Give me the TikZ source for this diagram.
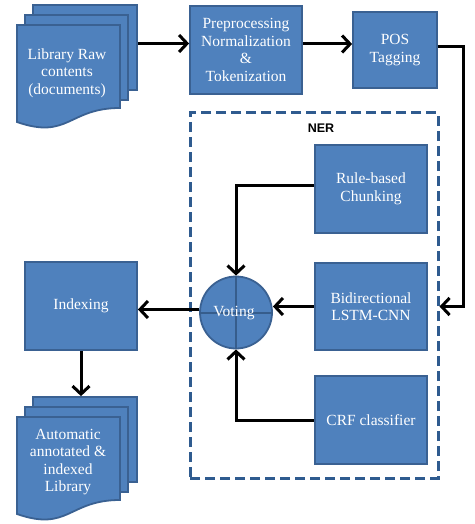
\documentclass[tikz,border=0pt]{standalone}
\usepackage{fontspec}
\setmainfont{Liberation Serif}
\newfontfamily\nersans{Liberation Sans}
\usetikzlibrary{arrows.meta,calc}
\definecolor{boxfill}{HTML}{4F81BD}
\definecolor{boxline}{HTML}{3A6192}
\definecolor{dashline}{HTML}{2F5B8F}
\definecolor{crossline}{HTML}{365D8C}
\tikzset{
  blk/.style={rectangle, fill=boxfill, draw=boxline, line width=1.8pt, text=white,
    align=center, inner sep=0pt, font=\fontsize{15.5}{17.5}\selectfont},
  page/.style={fill=boxfill, draw=boxline, line width=1.8pt},
  doctext/.style={text=white, align=center, inner sep=0pt, font=\fontsize{15.5}{17.5}\selectfont},
  arr/.style={line width=3pt, -{Straight Barb[length=8pt,width=17pt]}},
  nerbox/.style={rectangle, draw=dashline, line width=3pt, dash pattern=on 10pt off 5pt, inner sep=0pt},
}
\begin{document}
\begin{tikzpicture}[x=1pt,y=-1pt]
\useasboundingbox (0,0) rectangle (474,524);
% top multi-document
\node[page, minimum width=104pt, minimum height=85pt] (libback) at (85,47.5) {};
\node[page, minimum width=103pt, minimum height=85pt] (libmid) at (76.5,57.5) {};
\draw[page] (17,25) -- (120,25) -- (120,108) .. controls (68.5,108) and (68.5,140) .. (17,122) -- cycle;
\node[doctext] (lib) at (67,73) {Library Raw\\contents\\(documents)};
% top row
\node[blk, minimum width=112pt, minimum height=88pt] (prep) at (246,50) {Preprocessing\\Normalization\\\&\\Tokenization};
\node[blk, minimum width=84pt, minimum height=76pt] (pos) at (395,50) {POS\\Tagging};
% NER box
\node[nerbox, minimum width=248pt, minimum height=365pt] (ner) at (314,295.5) {};
\node[font=\nersans\bfseries\fontsize{12.5}{14}\selectfont, inner sep=0pt] (nerlabel) at (321,128) {NER};
\node[blk, minimum width=112pt, minimum height=88pt] (rule) at (371,189) {Rule-based\\Chunking};
\node[blk, minimum width=112pt, minimum height=87pt] (bidir) at (371,306.5) {Bidirectional\\LSTM-CNN};
\node[blk, minimum width=112pt, minimum height=88pt] (crf) at (371,420) {CRF classifier};
% voting
\node[circle, fill=boxfill, draw=boxline, line width=1.8pt, minimum size=72pt, inner sep=0pt] (vote) at (236,312.5) {};
\draw[crossline, line width=2pt] (vote.north) -- (vote.south) (vote.west) -- (vote.east);
\node[doctext] (votetext) at (234,313) {Voting};
% indexing
\node[blk, minimum width=112pt, minimum height=88pt] (idx) at (81,306) {Indexing};
% bottom multi-document
\begin{scope}[shift={(0,392)}]
\node[page, minimum width=104pt, minimum height=85pt] (outback) at (85,47.5) {};
\node[page, minimum width=103pt, minimum height=85pt] (outmid) at (76.5,57.5) {};
\draw[page] (17,25) -- (120,25) -- (120,108) .. controls (68.5,108) and (68.5,140) .. (17,122) -- cycle;
\node[doctext] (out) at (68,70) {Automatic\\annotated \&\\indexed\\Library};
\end{scope}
% connectors
\draw[arr] ([yshift=4pt]libback.east) -- ([yshift=4pt]libback.east -| prep.west);
\draw[arr] ([yshift=6pt]prep.east) -- ([yshift=6pt]prep.east -| pos.west);
\draw[arr] ([yshift=3pt]pos.east) -- ++(26,0) |- (ner.east |- bidir.center);
\draw[arr] ([yshift=4pt]rule.west) -| (vote.north);
\draw[arr] (bidir.west) -- (bidir.west -| vote.east);
\draw[arr] (crf.west) -| (vote.south);
\draw[arr] ([yshift=3pt]vote.west) -- ([yshift=3pt]vote.west -| idx.east);
\draw[arr] (idx.south) -- (idx.south |- outback.north);
\end{tikzpicture}
\end{document}
